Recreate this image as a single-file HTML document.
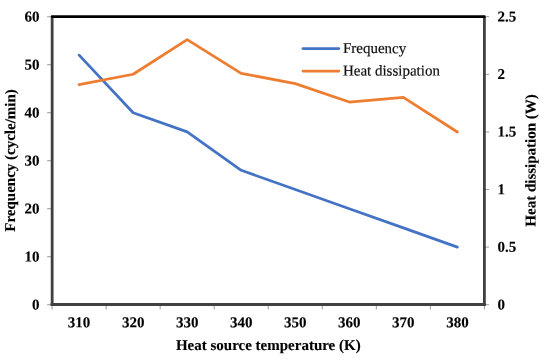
<!DOCTYPE html><html><head><meta charset="utf-8"><title>Chart</title><style>html,body{margin:0;padding:0;background:#fff}svg{display:block}text{font-family:"Liberation Serif",serif;font-size:15px;fill:#000}.b{font-weight:bold;stroke:#000;stroke-width:0.12px}</style></head><body>
<svg width="550" height="360" viewBox="0 0 550 360">
<rect width="550" height="360" fill="#fff"/>
<line x1="47.2" y1="304.70" x2="52.1" y2="304.70" stroke="#9a9a9a" stroke-width="1"/>
<line x1="47.2" y1="256.70" x2="52.1" y2="256.70" stroke="#9a9a9a" stroke-width="1"/>
<line x1="47.2" y1="208.70" x2="52.1" y2="208.70" stroke="#9a9a9a" stroke-width="1"/>
<line x1="47.2" y1="160.70" x2="52.1" y2="160.70" stroke="#9a9a9a" stroke-width="1"/>
<line x1="47.2" y1="112.70" x2="52.1" y2="112.70" stroke="#9a9a9a" stroke-width="1"/>
<line x1="47.2" y1="64.70" x2="52.1" y2="64.70" stroke="#9a9a9a" stroke-width="1"/>
<line x1="47.2" y1="16.70" x2="52.1" y2="16.70" stroke="#9a9a9a" stroke-width="1"/>
<line x1="484.4" y1="304.70" x2="489.0" y2="304.70" stroke="#9a9a9a" stroke-width="1"/>
<line x1="484.4" y1="247.10" x2="489.0" y2="247.10" stroke="#9a9a9a" stroke-width="1"/>
<line x1="484.4" y1="189.50" x2="489.0" y2="189.50" stroke="#9a9a9a" stroke-width="1"/>
<line x1="484.4" y1="131.90" x2="489.0" y2="131.90" stroke="#9a9a9a" stroke-width="1"/>
<line x1="484.4" y1="74.30" x2="489.0" y2="74.30" stroke="#9a9a9a" stroke-width="1"/>
<line x1="484.4" y1="16.70" x2="489.0" y2="16.70" stroke="#9a9a9a" stroke-width="1"/>
<line x1="52.10" y1="304.4" x2="52.10" y2="309.5" stroke="#9a9a9a" stroke-width="1"/>
<line x1="106.14" y1="304.4" x2="106.14" y2="309.5" stroke="#9a9a9a" stroke-width="1"/>
<line x1="160.17" y1="304.4" x2="160.17" y2="309.5" stroke="#9a9a9a" stroke-width="1"/>
<line x1="214.21" y1="304.4" x2="214.21" y2="309.5" stroke="#9a9a9a" stroke-width="1"/>
<line x1="268.25" y1="304.4" x2="268.25" y2="309.5" stroke="#9a9a9a" stroke-width="1"/>
<line x1="322.29" y1="304.4" x2="322.29" y2="309.5" stroke="#9a9a9a" stroke-width="1"/>
<line x1="376.32" y1="304.4" x2="376.32" y2="309.5" stroke="#9a9a9a" stroke-width="1"/>
<line x1="430.36" y1="304.4" x2="430.36" y2="309.5" stroke="#9a9a9a" stroke-width="1"/>
<line x1="484.40" y1="304.4" x2="484.40" y2="309.5" stroke="#9a9a9a" stroke-width="1"/>
<line x1="52.15" y1="16.4" x2="52.15" y2="305.9" stroke="#404040" stroke-width="2.8"/>
<line x1="484.4" y1="16.4" x2="484.4" y2="305.9" stroke="#404040" stroke-width="2.8"/>
<line x1="50.6" y1="304.5" x2="485.8" y2="304.5" stroke="#404040" stroke-width="2.9"/>
<line x1="51.1" y1="16.55" x2="485.4" y2="16.55" stroke="#000" stroke-width="2.8"/>
<polyline points="79.12,55.10 133.16,112.70 187.19,131.90 241.23,170.30 295.27,189.50 349.31,208.70 403.34,227.90 457.38,247.10" fill="none" stroke="#4472C4" stroke-width="2.75" stroke-linecap="round" stroke-linejoin="round"/>
<polyline points="79.12,84.62 133.16,74.25 187.19,39.69 241.23,73.33 295.27,83.58 349.31,102.01 403.34,97.41 457.38,131.97" fill="none" stroke="#ED7D31" stroke-width="2.75" stroke-linecap="round" stroke-linejoin="round"/>
<text class="b" x="39.40" y="309.40" text-anchor="end" transform="rotate(0.05 39.40 309.40)">0</text>
<text class="b" x="39.40" y="261.40" text-anchor="end" transform="rotate(0.05 39.40 261.40)">10</text>
<text class="b" x="39.40" y="213.40" text-anchor="end" transform="rotate(0.05 39.40 213.40)">20</text>
<text class="b" x="39.40" y="165.40" text-anchor="end" transform="rotate(0.05 39.40 165.40)">30</text>
<text class="b" x="39.40" y="117.40" text-anchor="end" transform="rotate(0.05 39.40 117.40)">40</text>
<text class="b" x="39.40" y="69.40" text-anchor="end" transform="rotate(0.05 39.40 69.40)">50</text>
<text class="b" x="39.40" y="21.40" text-anchor="end" transform="rotate(0.05 39.40 21.40)">60</text>
<text class="b" x="497.40" y="309.40" transform="rotate(0.05 497.40 309.40)">0</text>
<text class="b" x="497.40" y="251.80" transform="rotate(0.05 497.40 251.80)">0.5</text>
<text class="b" x="497.40" y="194.20" transform="rotate(0.05 497.40 194.20)">1</text>
<text class="b" x="497.40" y="136.60" transform="rotate(0.05 497.40 136.60)">1.5</text>
<text class="b" x="497.40" y="79.00" transform="rotate(0.05 497.40 79.00)">2</text>
<text class="b" x="497.40" y="21.40" transform="rotate(0.05 497.40 21.40)">2.5</text>
<text class="b" x="79.12" y="327.30" text-anchor="middle" transform="rotate(0.05 79.12 327.30)">310</text>
<text class="b" x="133.16" y="327.30" text-anchor="middle" transform="rotate(0.05 133.16 327.30)">320</text>
<text class="b" x="187.19" y="327.30" text-anchor="middle" transform="rotate(0.05 187.19 327.30)">330</text>
<text class="b" x="241.23" y="327.30" text-anchor="middle" transform="rotate(0.05 241.23 327.30)">340</text>
<text class="b" x="295.27" y="327.30" text-anchor="middle" transform="rotate(0.05 295.27 327.30)">350</text>
<text class="b" x="349.31" y="327.30" text-anchor="middle" transform="rotate(0.05 349.31 327.30)">360</text>
<text class="b" x="403.34" y="327.30" text-anchor="middle" transform="rotate(0.05 403.34 327.30)">370</text>
<text class="b" x="457.38" y="327.30" text-anchor="middle" transform="rotate(0.05 457.38 327.30)">380</text>
<text class="b" x="268.30" y="350.00" text-anchor="middle" transform="rotate(0.05 268.30 350.00)">Heat source temperature (K)</text>
<text class="b" transform="translate(15.1 160.45) rotate(-89.95)" text-anchor="middle">Frequency (cycle/min)</text>
<text class="b" transform="translate(535.5 160.4) rotate(-89.95)" text-anchor="middle">Heat dissipation (W)</text>
<line x1="303.0" y1="48.55" x2="338.8" y2="48.55" stroke="#4472C4" stroke-width="2.8" stroke-linecap="round"/>
<line x1="303.0" y1="71.05" x2="338.8" y2="71.05" stroke="#ED7D31" stroke-width="2.8" stroke-linecap="round"/>
<text x="342.90" y="53.10" transform="rotate(0.05 342.90 53.10)" style="fill:#111;stroke:#111;stroke-width:0.2px">Frequency</text>
<text x="342.90" y="75.50" transform="rotate(0.05 342.90 75.50)" style="fill:#111;stroke:#111;stroke-width:0.2px">Heat dissipation</text>
</svg></body></html>
